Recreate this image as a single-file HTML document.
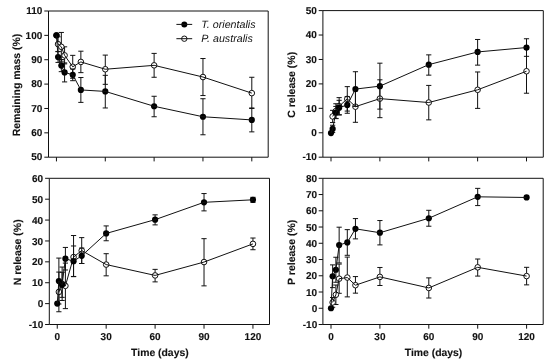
<!DOCTYPE html>
<html lang="en">
<head>
<meta charset="utf-8">
<title>Litter decomposition: remaining mass and C, N, P release</title>
<style>
html,body{margin:0;padding:0;background:#fff;}
body{width:550px;height:362px;overflow:hidden;}
svg{display:block;filter:blur(0.25px);}
text{font-family:"Liberation Sans", Arial, Helvetica, sans-serif;fill:#111;text-rendering:geometricPrecision;}
.t,.l{stroke:#111;stroke-width:0.12px;}
.t{font-size:10.0px;font-weight:bold;}
.l{font-size:10.5px;font-weight:bold;}
.i{font-size:10.7px;font-style:italic;}
</style>
</head>
<body>
<svg width="550" height="362" viewBox="0 0 550 362">
<rect width="550" height="362" fill="#fff"/>
<g><path d="M48.5 11H268.2V157.2H48.5Z" fill="none" stroke="#111" stroke-width="1.0"/>
<path d="M44.3 157.2H48.5M44.3 132.83H48.5M44.3 108.47H48.5M44.3 84.1H48.5M44.3 59.73H48.5M44.3 35.37H48.5M44.3 11H48.5M56.45 157.2V161.4M105.29 157.2V161.4M154.12 157.2V161.4M202.96 157.2V161.4M251.8 157.2V161.4" fill="none" stroke="#111" stroke-width="1.0"/>
<text x="42.3" y="160.4" text-anchor="end" class="t">50</text>
<text x="42.3" y="136.03" text-anchor="end" class="t">60</text>
<text x="42.3" y="111.67" text-anchor="end" class="t">70</text>
<text x="42.3" y="87.3" text-anchor="end" class="t">80</text>
<text x="42.3" y="62.93" text-anchor="end" class="t">90</text>
<text x="42.3" y="38.57" text-anchor="end" class="t">100</text>
<text x="42.3" y="14.2" text-anchor="end" class="t">110</text>
<text transform="translate(19.7 85) rotate(-90)" text-anchor="middle" class="l">Remaining mass (%)</text>
<path d="M58.08 36.83V51.45M55.48 36.83h5.2M55.48 51.45h5.2M61.33 32.44V61.2M58.73 32.44h5.2M58.73 61.2h5.2M64.59 46.82V63.88M61.99 46.82h5.2M61.99 63.88h5.2M72.73 55.35V78.25M70.13 55.35h5.2M70.13 78.25h5.2M80.87 51.2V72.65M78.27 51.2h5.2M78.27 72.65h5.2M105.29 55.1V84.34M102.69 55.1h5.2M102.69 84.34h5.2M154.12 53.4V77.28M151.53 53.4h5.2M151.53 77.28h5.2M202.96 58.52V95.55M200.36 58.52h5.2M200.36 95.55h5.2M251.8 77.28V108.47M249.2 77.28h5.2M249.2 108.47h5.2" fill="none" stroke="#111" stroke-width="1.0"/>
<circle cx="56.45" cy="35.37" r="2.8000000000000003" fill="#fff" stroke="#111" stroke-width="1.0"/>
<circle cx="58.08" cy="44.14" r="2.8000000000000003" fill="#fff" stroke="#111" stroke-width="1.0"/>
<circle cx="61.33" cy="46.82" r="2.8000000000000003" fill="#fff" stroke="#111" stroke-width="1.0"/>
<circle cx="64.59" cy="55.35" r="2.8000000000000003" fill="#fff" stroke="#111" stroke-width="1.0"/>
<circle cx="72.73" cy="66.8" r="2.8000000000000003" fill="#fff" stroke="#111" stroke-width="1.0"/>
<circle cx="80.87" cy="61.93" r="2.8000000000000003" fill="#fff" stroke="#111" stroke-width="1.0"/>
<circle cx="105.29" cy="69.24" r="2.8000000000000003" fill="#fff" stroke="#111" stroke-width="1.0"/>
<circle cx="154.12" cy="65.34" r="2.8000000000000003" fill="#fff" stroke="#111" stroke-width="1.0"/>
<circle cx="202.96" cy="77.03" r="2.8000000000000003" fill="#fff" stroke="#111" stroke-width="1.0"/>
<circle cx="251.8" cy="93.12" r="2.8000000000000003" fill="#fff" stroke="#111" stroke-width="1.0"/>
<polyline points="56.45,35.37 58.08,44.14 61.33,46.82 64.59,55.35 72.73,66.8 80.87,61.93 105.29,69.24 154.12,65.34 202.96,77.03 251.8,93.12" fill="none" stroke="#111" stroke-width="1.0"/>
<path d="M58.08 51.69V62.41M55.48 51.69h5.2M55.48 62.41h5.2M61.33 59.49V71.67M58.73 59.49h5.2M58.73 71.67h5.2M64.59 62.9V81.91M61.99 62.9h5.2M61.99 81.91h5.2M72.73 68.99V80.69M70.13 68.99h5.2M70.13 80.69h5.2M80.87 77.52V102.38M78.27 77.52h5.2M78.27 102.38h5.2M105.29 75.33V107.98M102.69 75.33h5.2M102.69 107.98h5.2M154.12 96.28V116.75M151.53 96.28h5.2M151.53 116.75h5.2M202.96 98.72V134.78M200.36 98.72h5.2M200.36 134.78h5.2M251.8 107.98V131.86M249.2 107.98h5.2M249.2 131.86h5.2" fill="none" stroke="#111" stroke-width="1.0"/>
<circle cx="56.45" cy="35.37" r="3.1" fill="#000"/>
<circle cx="58.08" cy="57.05" r="3.1" fill="#000"/>
<circle cx="61.33" cy="65.58" r="3.1" fill="#000"/>
<circle cx="64.59" cy="72.4" r="3.1" fill="#000"/>
<circle cx="72.73" cy="74.84" r="3.1" fill="#000"/>
<circle cx="80.87" cy="89.95" r="3.1" fill="#000"/>
<circle cx="105.29" cy="91.41" r="3.1" fill="#000"/>
<circle cx="154.12" cy="106.27" r="3.1" fill="#000"/>
<circle cx="202.96" cy="116.75" r="3.1" fill="#000"/>
<circle cx="251.8" cy="119.92" r="3.1" fill="#000"/>
<polyline points="56.45,35.37 58.08,57.05 61.33,65.58 64.59,72.4 72.73,74.84 80.87,89.95 105.29,91.41 154.12,106.27 202.96,116.75 251.8,119.92" fill="none" stroke="#111" stroke-width="1.0"/></g>
<g><path d="M322.9 10.6H543.3V157.2H322.9Z" fill="none" stroke="#111" stroke-width="1.0"/>
<path d="M318.7 157.2H322.9M318.7 132.77H322.9M318.7 108.33H322.9M318.7 83.9H322.9M318.7 59.47H322.9M318.7 35.03H322.9M318.7 10.6H322.9M331 157.2V161.4M379.88 157.2V161.4M428.75 157.2V161.4M477.62 157.2V161.4M526.5 157.2V161.4" fill="none" stroke="#111" stroke-width="1.0"/>
<text x="316.9" y="160.4" text-anchor="end" class="t">-10</text>
<text x="316.9" y="135.97" text-anchor="end" class="t">0</text>
<text x="316.9" y="111.53" text-anchor="end" class="t">10</text>
<text x="316.9" y="87.1" text-anchor="end" class="t">20</text>
<text x="316.9" y="62.67" text-anchor="end" class="t">30</text>
<text x="316.9" y="38.23" text-anchor="end" class="t">40</text>
<text x="316.9" y="13.8" text-anchor="end" class="t">50</text>
<text transform="translate(295 84.8) rotate(-90)" text-anchor="middle" class="l">C release (%)</text>
<path d="M332.63 110.34V122.55M330.03 110.34h5.2M330.03 122.55h5.2M335.89 103.74V118.4M333.29 103.74h5.2M333.29 118.4h5.2M339.15 97.63V114.73M336.55 97.63h5.2M336.55 114.73h5.2M347.29 86.64V111.07M344.69 86.64h5.2M344.69 111.07h5.2M355.44 91.03V122.31M352.84 91.03h5.2M352.84 122.31h5.2M379.88 79.8V117.67M377.27 79.8h5.2M377.27 117.67h5.2M428.75 85.41V119.87M426.15 85.41h5.2M426.15 119.87h5.2M477.62 71.98V108.38M475.02 71.98h5.2M475.02 108.38h5.2M526.5 49.25V93.23M523.9 49.25h5.2M523.9 93.23h5.2" fill="none" stroke="#111" stroke-width="1.0"/>
<circle cx="332.63" cy="116.45" r="2.8000000000000003" fill="#fff" stroke="#111" stroke-width="1.0"/>
<circle cx="335.89" cy="111.07" r="2.8000000000000003" fill="#fff" stroke="#111" stroke-width="1.0"/>
<circle cx="339.15" cy="106.18" r="2.8000000000000003" fill="#fff" stroke="#111" stroke-width="1.0"/>
<circle cx="347.29" cy="98.85" r="2.8000000000000003" fill="#fff" stroke="#111" stroke-width="1.0"/>
<circle cx="355.44" cy="106.67" r="2.8000000000000003" fill="#fff" stroke="#111" stroke-width="1.0"/>
<circle cx="379.88" cy="98.61" r="2.8000000000000003" fill="#fff" stroke="#111" stroke-width="1.0"/>
<circle cx="428.75" cy="102.52" r="2.8000000000000003" fill="#fff" stroke="#111" stroke-width="1.0"/>
<circle cx="477.62" cy="89.81" r="2.8000000000000003" fill="#fff" stroke="#111" stroke-width="1.0"/>
<circle cx="526.5" cy="71.24" r="2.8000000000000003" fill="#fff" stroke="#111" stroke-width="1.0"/>
<polyline points="332.63,116.45 335.89,111.07 339.15,106.18 347.29,98.85 355.44,106.67 379.88,98.61 428.75,102.52 477.62,89.81 526.5,71.24" fill="none" stroke="#111" stroke-width="1.0"/>
<path d="M332.63 125.24V132.57M330.03 125.24h5.2M330.03 132.57h5.2M335.89 106.43V118.64M333.29 106.43h5.2M333.29 118.64h5.2M339.15 100.32V114.98M336.55 100.32h5.2M336.55 114.98h5.2M347.29 96.65V113.27M344.69 96.65h5.2M344.69 113.27h5.2M355.44 71.73V106.43M352.84 71.73h5.2M352.84 106.43h5.2M379.88 63.18V109.12M377.27 63.18h5.2M377.27 109.12h5.2M428.75 54.87V75.15M426.15 54.87h5.2M426.15 75.15h5.2M477.62 39.48V65.14M475.02 39.48h5.2M475.02 65.14h5.2M526.5 38.75V56.34M523.9 38.75h5.2M523.9 56.34h5.2" fill="none" stroke="#111" stroke-width="1.0"/>
<circle cx="331" cy="133.06" r="3.1" fill="#000"/>
<circle cx="332.63" cy="128.91" r="3.1" fill="#000"/>
<circle cx="335.89" cy="112.54" r="3.1" fill="#000"/>
<circle cx="339.15" cy="107.65" r="3.1" fill="#000"/>
<circle cx="347.29" cy="104.96" r="3.1" fill="#000"/>
<circle cx="355.44" cy="89.08" r="3.1" fill="#000"/>
<circle cx="379.88" cy="86.15" r="3.1" fill="#000"/>
<circle cx="428.75" cy="64.65" r="3.1" fill="#000"/>
<circle cx="477.62" cy="51.94" r="3.1" fill="#000"/>
<circle cx="526.5" cy="47.54" r="3.1" fill="#000"/>
<polyline points="331,133.06 332.63,128.91 335.89,112.54 339.15,107.65 347.29,104.96 355.44,89.08 379.88,86.15 428.75,64.65 477.62,51.94 526.5,47.54" fill="none" stroke="#111" stroke-width="1.0"/></g>
<g><path d="M49.3 178.3H269.5V324.5H49.3Z" fill="none" stroke="#111" stroke-width="1.0"/>
<path d="M45.1 324.5H49.3M45.1 303.61H49.3M45.1 282.73H49.3M45.1 261.84H49.3M45.1 240.96H49.3M45.1 220.07H49.3M45.1 199.19H49.3M45.1 178.3H49.3M57.25 324.5V328.7M106.17 324.5V328.7M155.1 324.5V328.7M204.02 324.5V328.7M252.95 324.5V328.7" fill="none" stroke="#111" stroke-width="1.0"/>
<text x="43.2" y="328.1" text-anchor="end" class="t">-10</text>
<text x="43.2" y="307.21" text-anchor="end" class="t">0</text>
<text x="43.2" y="286.33" text-anchor="end" class="t">10</text>
<text x="43.2" y="265.44" text-anchor="end" class="t">20</text>
<text x="43.2" y="244.56" text-anchor="end" class="t">30</text>
<text x="43.2" y="223.67" text-anchor="end" class="t">40</text>
<text x="43.2" y="202.79" text-anchor="end" class="t">50</text>
<text x="43.2" y="181.9" text-anchor="end" class="t">60</text>
<text x="57.25" y="340.4" text-anchor="middle" class="t">0</text>
<text x="106.17" y="340.4" text-anchor="middle" class="t">30</text>
<text x="155.1" y="340.4" text-anchor="middle" class="t">60</text>
<text x="204.02" y="340.4" text-anchor="middle" class="t">90</text>
<text x="252.95" y="340.4" text-anchor="middle" class="t">120</text>
<text x="159.9" y="355.8" text-anchor="middle" class="l" style="font-size:10.4px">Time (days)</text>
<text transform="translate(20.7 252.3) rotate(-90)" text-anchor="middle" class="l">N release (%)</text>
<path d="M58.88 272.08V311.76M56.28 272.08h5.2M56.28 311.76h5.2M62.14 267.06V300.48M59.54 267.06h5.2M59.54 300.48h5.2M65.4 263.1V308.63M62.8 263.1h5.2M62.8 308.63h5.2M73.56 235.53V276.67M70.96 235.53h5.2M70.96 276.67h5.2M81.71 237.62V263.51M79.11 237.62h5.2M79.11 263.51h5.2M106.17 253.7V275.84M103.58 253.7h5.2M103.58 275.84h5.2M155.1 269.36V281.89M152.5 269.36h5.2M152.5 281.89h5.2M204.02 238.66V285.86M201.42 238.66h5.2M201.42 285.86h5.2M252.95 238.03V249.73M250.35 238.03h5.2M250.35 249.73h5.2" fill="none" stroke="#111" stroke-width="1.0"/>
<circle cx="58.88" cy="291.92" r="2.8000000000000003" fill="#fff" stroke="#111" stroke-width="1.0"/>
<circle cx="62.14" cy="283.77" r="2.8000000000000003" fill="#fff" stroke="#111" stroke-width="1.0"/>
<circle cx="65.4" cy="285.86" r="2.8000000000000003" fill="#fff" stroke="#111" stroke-width="1.0"/>
<circle cx="73.56" cy="257.04" r="2.8000000000000003" fill="#fff" stroke="#111" stroke-width="1.0"/>
<circle cx="81.71" cy="250.56" r="2.8000000000000003" fill="#fff" stroke="#111" stroke-width="1.0"/>
<circle cx="106.17" cy="264.56" r="2.8000000000000003" fill="#fff" stroke="#111" stroke-width="1.0"/>
<circle cx="155.1" cy="275.42" r="2.8000000000000003" fill="#fff" stroke="#111" stroke-width="1.0"/>
<circle cx="204.02" cy="262.05" r="2.8000000000000003" fill="#fff" stroke="#111" stroke-width="1.0"/>
<circle cx="252.95" cy="243.88" r="2.8000000000000003" fill="#fff" stroke="#111" stroke-width="1.0"/>
<polyline points="58.88,291.92 62.14,283.77 65.4,285.86 73.56,257.04 81.71,250.56 106.17,264.56 155.1,275.42 204.02,262.05 252.95,243.88" fill="none" stroke="#111" stroke-width="1.0"/>
<path d="M58.88 258.08V304.03M56.28 258.08h5.2M56.28 304.03h5.2M62.14 272.29V297.35M59.54 272.29h5.2M59.54 297.35h5.2M65.4 247.43V269.99M62.8 247.43h5.2M62.8 269.99h5.2M73.56 245.97V276.46M70.96 245.97h5.2M70.96 276.46h5.2M81.71 248.06V263.51M79.11 248.06h5.2M79.11 263.51h5.2M106.17 225.92V240.75M103.58 225.92h5.2M103.58 240.75h5.2M155.1 214.85V224.88M152.5 214.85h5.2M152.5 224.88h5.2M204.02 193.55V210.88M201.42 193.55h5.2M201.42 210.88h5.2M252.95 197.31V202.32M250.35 197.31h5.2M250.35 202.32h5.2" fill="none" stroke="#111" stroke-width="1.0"/>
<circle cx="57.25" cy="303.61" r="3.1" fill="#000"/>
<circle cx="58.88" cy="281.06" r="3.1" fill="#000"/>
<circle cx="62.14" cy="284.82" r="3.1" fill="#000"/>
<circle cx="65.4" cy="258.71" r="3.1" fill="#000"/>
<circle cx="73.56" cy="261.22" r="3.1" fill="#000"/>
<circle cx="81.71" cy="255.79" r="3.1" fill="#000"/>
<circle cx="106.17" cy="233.44" r="3.1" fill="#000"/>
<circle cx="155.1" cy="219.65" r="3.1" fill="#000"/>
<circle cx="204.02" cy="202.32" r="3.1" fill="#000"/>
<circle cx="252.95" cy="199.81" r="3.1" fill="#000"/>
<polyline points="57.25,303.61 58.88,281.06 62.14,284.82 65.4,258.71 73.56,261.22 81.71,255.79 106.17,233.44 155.1,219.65 204.02,202.32 252.95,199.81" fill="none" stroke="#111" stroke-width="1.0"/></g>
<g><path d="M322.9 178.3H543.2V324.5H322.9Z" fill="none" stroke="#111" stroke-width="1.0"/>
<path d="M318.7 324.5H322.9M318.7 308.26H322.9M318.7 292.01H322.9M318.7 275.77H322.9M318.7 259.52H322.9M318.7 243.28H322.9M318.7 227.03H322.9M318.7 210.79H322.9M318.7 194.54H322.9M318.7 178.3H322.9M331 324.5V328.7M379.9 324.5V328.7M428.8 324.5V328.7M477.7 324.5V328.7M526.6 324.5V328.7" fill="none" stroke="#111" stroke-width="1.0"/>
<text x="317.2" y="328.1" text-anchor="end" class="t">-10</text>
<text x="317.2" y="311.86" text-anchor="end" class="t">0</text>
<text x="317.2" y="295.61" text-anchor="end" class="t">10</text>
<text x="317.2" y="279.37" text-anchor="end" class="t">20</text>
<text x="317.2" y="263.12" text-anchor="end" class="t">30</text>
<text x="317.2" y="246.88" text-anchor="end" class="t">40</text>
<text x="317.2" y="230.63" text-anchor="end" class="t">50</text>
<text x="317.2" y="214.39" text-anchor="end" class="t">60</text>
<text x="317.2" y="198.14" text-anchor="end" class="t">70</text>
<text x="317.2" y="181.9" text-anchor="end" class="t">80</text>
<text x="331" y="340.4" text-anchor="middle" class="t">0</text>
<text x="379.9" y="340.4" text-anchor="middle" class="t">30</text>
<text x="428.8" y="340.4" text-anchor="middle" class="t">60</text>
<text x="477.7" y="340.4" text-anchor="middle" class="t">90</text>
<text x="526.6" y="340.4" text-anchor="middle" class="t">120</text>
<text x="433.55" y="355.8" text-anchor="middle" class="l" style="font-size:10.4px">Time (days)</text>
<text transform="translate(295.4 252.3) rotate(-90)" text-anchor="middle" class="l">P release (%)</text>
<path d="M332.63 297.53V307.28M330.03 297.53h5.2M330.03 307.28h5.2M335.89 285.03V304.52M333.29 285.03h5.2M333.29 304.52h5.2M339.15 264.07V293.31M336.55 264.07h5.2M336.55 293.31h5.2M347.3 257.09V296.88M344.7 257.09h5.2M344.7 296.88h5.2M355.45 276.58V293.15M352.85 276.58h5.2M352.85 293.15h5.2M379.9 267.48V285.51M377.3 267.48h5.2M377.3 285.51h5.2M428.8 277.88V298.02M426.2 277.88h5.2M426.2 298.02h5.2M477.7 259.03V276.09M475.1 259.03h5.2M475.1 276.09h5.2M526.6 267.32V284.86M524 267.32h5.2M524 284.86h5.2" fill="none" stroke="#111" stroke-width="1.0"/>
<circle cx="332.63" cy="302.41" r="2.8000000000000003" fill="#fff" stroke="#111" stroke-width="1.0"/>
<circle cx="335.89" cy="294.77" r="2.8000000000000003" fill="#fff" stroke="#111" stroke-width="1.0"/>
<circle cx="339.15" cy="278.69" r="2.8000000000000003" fill="#fff" stroke="#111" stroke-width="1.0"/>
<circle cx="347.3" cy="277.55" r="2.8000000000000003" fill="#fff" stroke="#111" stroke-width="1.0"/>
<circle cx="355.45" cy="285.19" r="2.8000000000000003" fill="#fff" stroke="#111" stroke-width="1.0"/>
<circle cx="379.9" cy="276.9" r="2.8000000000000003" fill="#fff" stroke="#111" stroke-width="1.0"/>
<circle cx="428.8" cy="287.95" r="2.8000000000000003" fill="#fff" stroke="#111" stroke-width="1.0"/>
<circle cx="477.7" cy="267.32" r="2.8000000000000003" fill="#fff" stroke="#111" stroke-width="1.0"/>
<circle cx="526.6" cy="276.09" r="2.8000000000000003" fill="#fff" stroke="#111" stroke-width="1.0"/>
<polyline points="332.63,302.41 335.89,294.77 339.15,278.69 347.3,277.55 355.45,285.19 379.9,276.9 428.8,287.95 477.7,267.32 526.6,276.09" fill="none" stroke="#111" stroke-width="1.0"/>
<path d="M332.63 264.88V287.63M330.03 264.88h5.2M330.03 287.63h5.2M335.89 257.25V282.26M333.29 257.25h5.2M333.29 282.26h5.2M339.15 227.2V262.93M336.55 227.2h5.2M336.55 262.93h5.2M347.3 229.63V255.3M344.7 229.63h5.2M344.7 255.3h5.2M355.45 218.59V238.89M352.85 218.59h5.2M352.85 238.89h5.2M379.9 220.54V244.9M377.3 220.54h5.2M377.3 244.9h5.2M428.8 210.3V226.22M426.2 210.3h5.2M426.2 226.22h5.2M477.7 188.37V205.59M475.1 188.37h5.2M475.1 205.59h5.2" fill="none" stroke="#111" stroke-width="1.0"/>
<circle cx="331" cy="308.26" r="3.1" fill="#000"/>
<circle cx="332.63" cy="276.25" r="3.1" fill="#000"/>
<circle cx="335.89" cy="269.76" r="3.1" fill="#000"/>
<circle cx="339.15" cy="245.06" r="3.1" fill="#000"/>
<circle cx="347.3" cy="242.47" r="3.1" fill="#000"/>
<circle cx="355.45" cy="228.82" r="3.1" fill="#000"/>
<circle cx="379.9" cy="232.72" r="3.1" fill="#000"/>
<circle cx="428.8" cy="218.26" r="3.1" fill="#000"/>
<circle cx="477.7" cy="196.82" r="3.1" fill="#000"/>
<circle cx="526.6" cy="197.47" r="3.1" fill="#000"/>
<polyline points="331,308.26 332.63,276.25 335.89,269.76 339.15,245.06 347.3,242.47 355.45,228.82 379.9,232.72 428.8,218.26 477.7,196.82 526.6,197.47" fill="none" stroke="#111" stroke-width="1.0"/></g>
<g><circle cx="184.3" cy="24.4" r="3.0" fill="#000"/>
<circle cx="184.3" cy="38.7" r="2.7" fill="#fff" stroke="#111" stroke-width="1.0"/>
<path d="M176.4 24.4H192.2M176.4 38.7H192.2" stroke="#111" stroke-width="1.0" fill="none"/>
<text x="201.3" y="27.9" class="i">T. orientalis</text>
<text x="201.3" y="42.2" class="i">P. australis</text></g>
</svg>
</body>
</html>
